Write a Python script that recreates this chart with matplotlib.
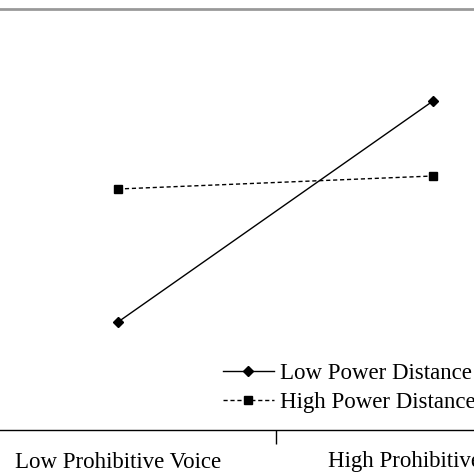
import matplotlib
matplotlib.use("Agg")
import matplotlib.pyplot as plt

categories = ["Low Prohibitive Voice", "High Prohibitive Voice"]
low_pd = [1.08, 3.29]
high_pd = [2.41, 2.54]
series_names = ["Low Power Distance Orientation", "High Power Distance Orientation"]

plt.rcParams['font.family'] = ['Liberation Serif', 'DejaVu Serif']
fig = plt.figure(figsize=(4.74, 4.74), dpi=100)
ax = fig.add_axes([0, 44/474, 1, (430-9)/474])
x = [0, 1]
ax.plot(x, low_pd, '-', color='black', lw=1, marker='D', ms=5, label=series_names[0])
ax.plot(x, high_pd, '--', color='black', lw=1, marker='s', ms=6, label=series_names[1], dashes=(3, 2))
ax.set_xlim(-118/315, 356/315)
ax.set_ylim(0, 4.21)
ax.set_yticks([])
ax.set_xticks([0.5])
ax.set_xticklabels([])
ax.tick_params(axis='x', length=10, width=1)
for i, c in enumerate(categories):
    ax.text(i, -0.32, c, ha='center', va='center', fontsize=16.5, transform=ax.transData)
for s in ['left', 'right']:
    ax.spines[s].set_visible(False)
ax.spines['top'].set_color('#999999')
ax.spines['top'].set_linewidth(2)
ax.spines['bottom'].set_linewidth(1)
leg = ax.legend(loc='center left', bbox_to_anchor=(214/474, (430-388)/421), frameon=False,
                fontsize=16.5, handlelength=2.2, handletextpad=0.3, labelspacing=0.35, borderaxespad=0)
fig.savefig("out.png", dpi=100)
